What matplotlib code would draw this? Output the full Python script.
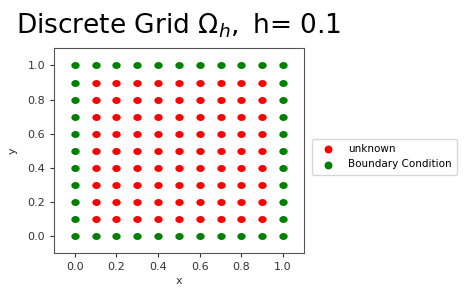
import numpy as np
import matplotlib
matplotlib.use("Agg")
import matplotlib.pyplot as plt
from matplotlib.path import Path

# grid nodes of the unit square, h = 0.1
grid = [0.0, 0.1, 0.2, 0.3, 0.4, 0.5, 0.6, 0.7, 0.8, 0.9, 1.0]
ticks = [0.0, 0.2, 0.4, 0.6, 0.8, 1.0]
labels = ["unknown", "Boundary Condition"]
colors = ["red", "green"]

xx, yy = np.meshgrid(grid, grid)
xx, yy = xx.ravel(), yy.ravel()
on_edge = (np.isin(xx, [grid[0], grid[-1]])) | (np.isin(yy, [grid[0], grid[-1]]))

# slightly wide dots, the reference looks horizontally stretched
t = np.linspace(0, 2 * np.pi, 40)
ellipse = Path(np.column_stack([1.2 * np.cos(t), np.sin(t)]), closed=True)

fig = plt.figure(figsize=(4.74, 2.90), dpi=100)
ax = fig.add_axes([0.114, 0.128, 0.527, 0.705])

ax.scatter(xx[~on_edge], yy[~on_edge], s=36, c=colors[0], marker=ellipse,
           linewidths=0)
ax.scatter(xx[on_edge], yy[on_edge], s=36, c=colors[1], marker=ellipse,
           linewidths=0)

# legend entries drawn as plain round markers
h1 = ax.scatter([], [], s=22, c=colors[0], marker='o', label=labels[0])
h2 = ax.scatter([], [], s=22, c=colors[1], marker='o', label=labels[1])

ax.set_xlim(-0.1, 1.1)
ax.set_ylim(-0.1, 1.1)
ax.set_xticks(ticks)
ax.set_yticks(ticks)
ax.tick_params(labelsize=8, colors='#333333', length=3)
for s in ax.spines.values():
    s.set_color('#555555')
ax.set_xlabel('x', fontsize=8, color='#333333', labelpad=3)
ax.set_ylabel('y', fontsize=8, color='#333333', labelpad=7)

ax.set_title(r'Discrete Grid $\Omega_h,\ $h= 0.1', fontsize=19, pad=11)

ax.legend(handles=[h1, h2], loc='center left', bbox_to_anchor=(1.02, 0.47),
          fontsize=7.5, frameon=True, handletextpad=1.0, borderpad=0.5,
          borderaxespad=0.3)

fig.savefig('out.png', dpi=100)
